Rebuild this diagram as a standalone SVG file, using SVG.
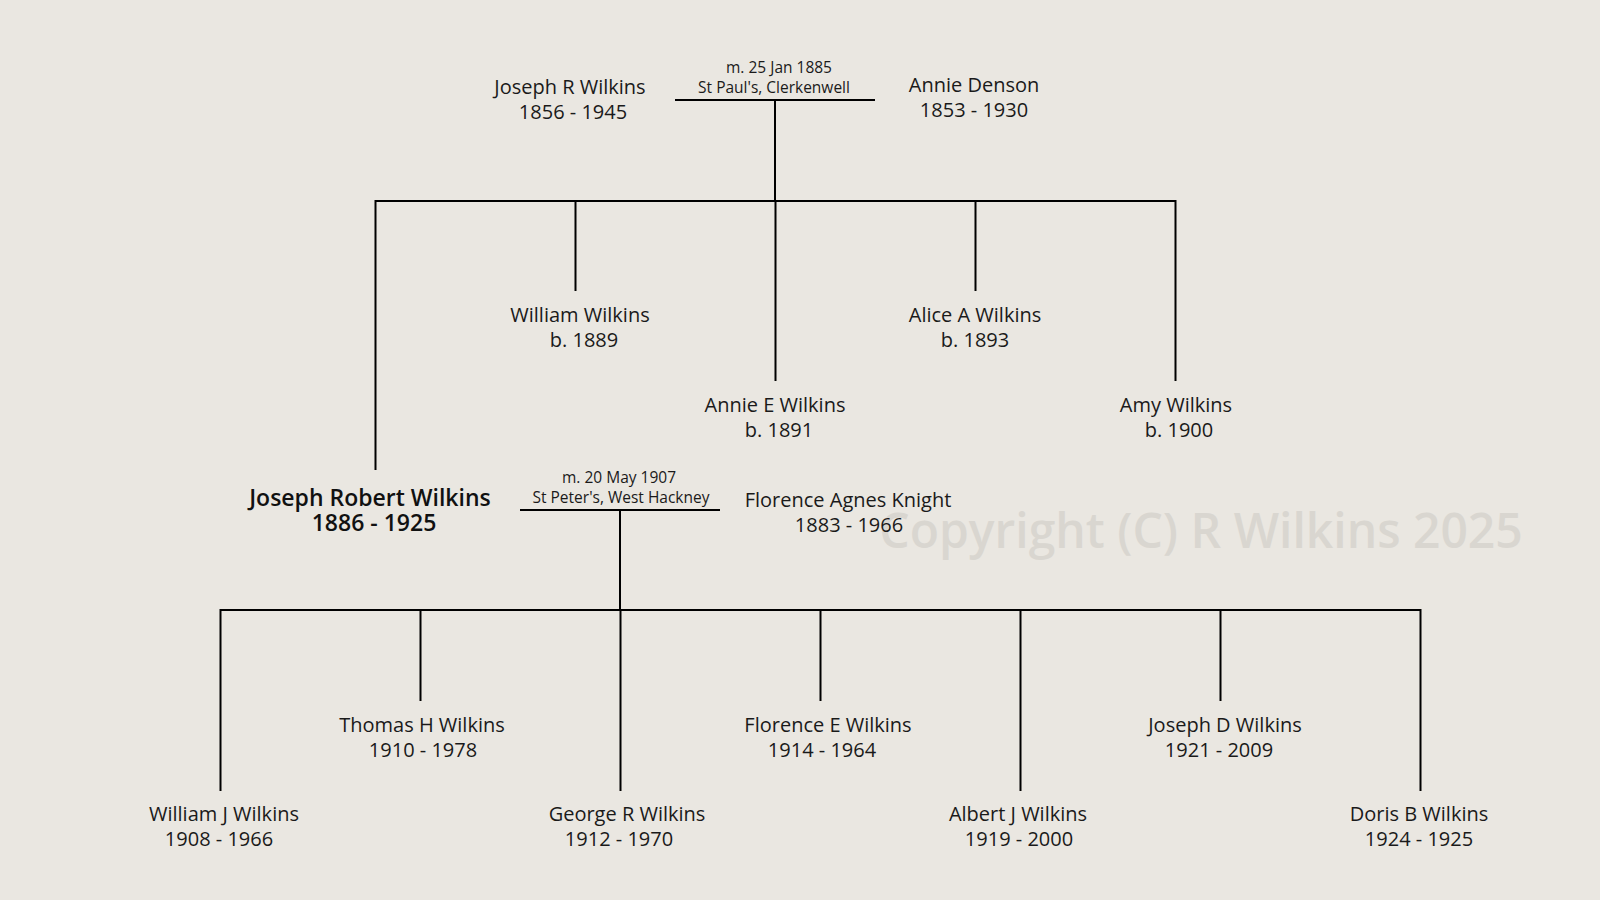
<svg xmlns="http://www.w3.org/2000/svg" width="1600" height="900" viewBox="0 0 1600 900">
<style>
.n{font-family:"Open Sans","Noto Sans","Liberation Sans",sans-serif;font-size:20px;fill:#1a1a1a;text-anchor:middle}
.b{font-size:23px;font-weight:600;fill:#111}
.m{font-family:"Open Sans","Noto Sans","Liberation Sans",sans-serif;font-size:15.5px;fill:#1a1a1a;text-anchor:middle}
.c{stroke:#000;stroke-width:2;fill:none}
.w{font-family:"Open Sans","Noto Sans","Liberation Sans",sans-serif;font-size:48px;font-weight:600;fill:#d9d6d0;text-anchor:middle}
</style>
<rect width="1600" height="900" fill="#eae7e1"/>
<text class="w" x="1201" y="548">Copyright (C) R Wilkins 2025</text>
<g id="connectors">
<path class="c" d="M675,100H875M775,100V201M375.5,201H1175.5M375.5,200V470M575.5,200V291M775.5,200V381M975.5,200V291M1175.5,200V381"/>
<path class="c" d="M520,510H720M620,510V610M220,610H1420M220.5,609V791M420.5,609V701M620.5,609V791M820.5,609V701M1020.5,609V791M1220.5,609V701M1420.5,609V791"/>
</g>
<g id="m1"><text class="m" x="779" y="73">m. 25 Jan 1885</text><text class="m" x="774" y="93">St Paul's, Clerkenwell</text></g>
<g id="joseph-r"><text class="n" x="570" y="94">Joseph R Wilkins</text><text class="n" x="573" y="119">1856 - 1945</text></g>
<g id="annie-d"><text class="n" x="974" y="92">Annie Denson</text><text class="n" x="974" y="117">1853 - 1930</text></g>
<g id="william"><text class="n" x="580" y="322">William Wilkins</text><text class="n" x="584" y="347">b. 1889</text></g>
<g id="annie-e"><text class="n" x="775" y="412">Annie E Wilkins</text><text class="n" x="779" y="437">b. 1891</text></g>
<g id="alice"><text class="n" x="975" y="322">Alice A Wilkins</text><text class="n" x="975" y="347">b. 1893</text></g>
<g id="amy"><text class="n" x="1176" y="412">Amy Wilkins</text><text class="n" x="1179" y="437">b. 1900</text></g>
<g id="joseph-robert"><text class="n b" x="370" y="506">Joseph Robert Wilkins</text><text class="n b" x="374" y="531">1886 - 1925</text></g>
<g id="m2"><text class="m" x="619" y="483">m. 20 May 1907</text><text class="m" x="621" y="503">St Peter's, West Hackney</text></g>
<g id="florence-a"><text class="n" x="848" y="507">Florence Agnes Knight</text><text class="n" x="849" y="532">1883 - 1966</text></g>
<g id="thomas"><text class="n" x="422" y="732">Thomas H Wilkins</text><text class="n" x="423" y="757">1910 - 1978</text></g>
<g id="florence-e"><text class="n" x="828" y="732">Florence E Wilkins</text><text class="n" x="822" y="757">1914 - 1964</text></g>
<g id="joseph-d"><text class="n" x="1225" y="732">Joseph D Wilkins</text><text class="n" x="1219" y="757">1921 - 2009</text></g>
<g id="william-j"><text class="n" x="224" y="821">William J Wilkins</text><text class="n" x="219" y="846">1908 - 1966</text></g>
<g id="george"><text class="n" x="627" y="821">George R Wilkins</text><text class="n" x="619" y="846">1912 - 1970</text></g>
<g id="albert"><text class="n" x="1018" y="821">Albert J Wilkins</text><text class="n" x="1019" y="846">1919 - 2000</text></g>
<g id="doris"><text class="n" x="1419" y="821">Doris B Wilkins</text><text class="n" x="1419" y="846">1924 - 1925</text></g>
</svg>
